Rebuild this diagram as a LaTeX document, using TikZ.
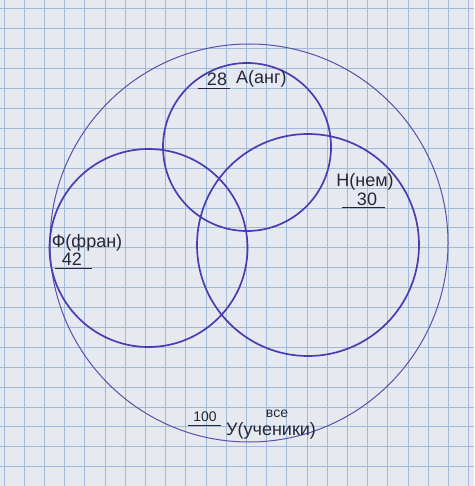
\documentclass[tikz,border=0pt]{standalone}
\usepackage{fontspec}
\setmainfont{Liberation Sans}
\definecolor{paper}{HTML}{E6EAF0}
\definecolor{gridc}{HTML}{A2B9D8}
\definecolor{ink}{HTML}{4A3CB2}
\definecolor{inkthin}{HTML}{5B50A8}
\definecolor{pencil}{HTML}{26263A}
\begin{document}
\begin{tikzpicture}[x=1pt,y=-1pt,
  ring/.style={circle,draw=ink,line width=1.7pt,inner sep=0pt},
  lbl/.style={text=pencil,inner sep=0pt,font=\fontsize{18}{20}\selectfont},
  small/.style={text=pencil,inner sep=0pt,font=\fontsize{14}{15}\selectfont},
  uline/.style={draw=pencil,line width=0.9pt}]
\fill[paper] (0,0) rectangle (474,486);
\useasboundingbox (0,0) rectangle (474,486);
\foreach \i in {0,...,23} \draw[gridc,line width=1pt] ({4+20.2*\i},0) -- ++(0,486);
\foreach \j in {0,...,24} \draw[gridc,line width=1pt] (0,{9+19.9*\j}) -- ++(474,0);
% circles
\node[ring,draw=inkthin,line width=1pt,minimum size=398pt] (U) at (249,243) {};
\node[ring,minimum size=168pt] (A) at (247,147) {};
\node[ring,minimum size=198pt] (F) at (148.5,248) {};
\node[ring,minimum size=222pt] (N) at (308,245) {};
% labels
\node[lbl] (n28) at (217,79) {28};
\coordinate (u28a) at (198,88); \coordinate (u28b) at (230,88);
\draw[uline] (u28a) -- (u28b);
\node[lbl,anchor=west] (la) at (236,79) {A(анг)};
\node[lbl] (ln) at (365,182) {Н(нем)};
\node[lbl] (n30) at (367,199) {30};
\coordinate (u30a) at (342,207); \coordinate (u30b) at (385,207);
\draw[uline] (u30a) -- (u30b);
\node[lbl] (lf) at (87,243) {Ф(фран)};
\node[lbl] (n42) at (72,259) {42};
\coordinate (u42a) at (55,268); \coordinate (u42b) at (92,268);
\draw[uline] (u42a) -- (u42b);
\node[small] (n100) at (205,417) {100};
\coordinate (u100a) at (188,425); \coordinate (u100b) at (221,425);
\draw[uline] (u100a) -- (u100b);
\node[lbl,anchor=west] (lu) at (226,431) {У(ученики)};
\node[small] (vse) at (277,414) {все};
\end{tikzpicture}
\end{document}
